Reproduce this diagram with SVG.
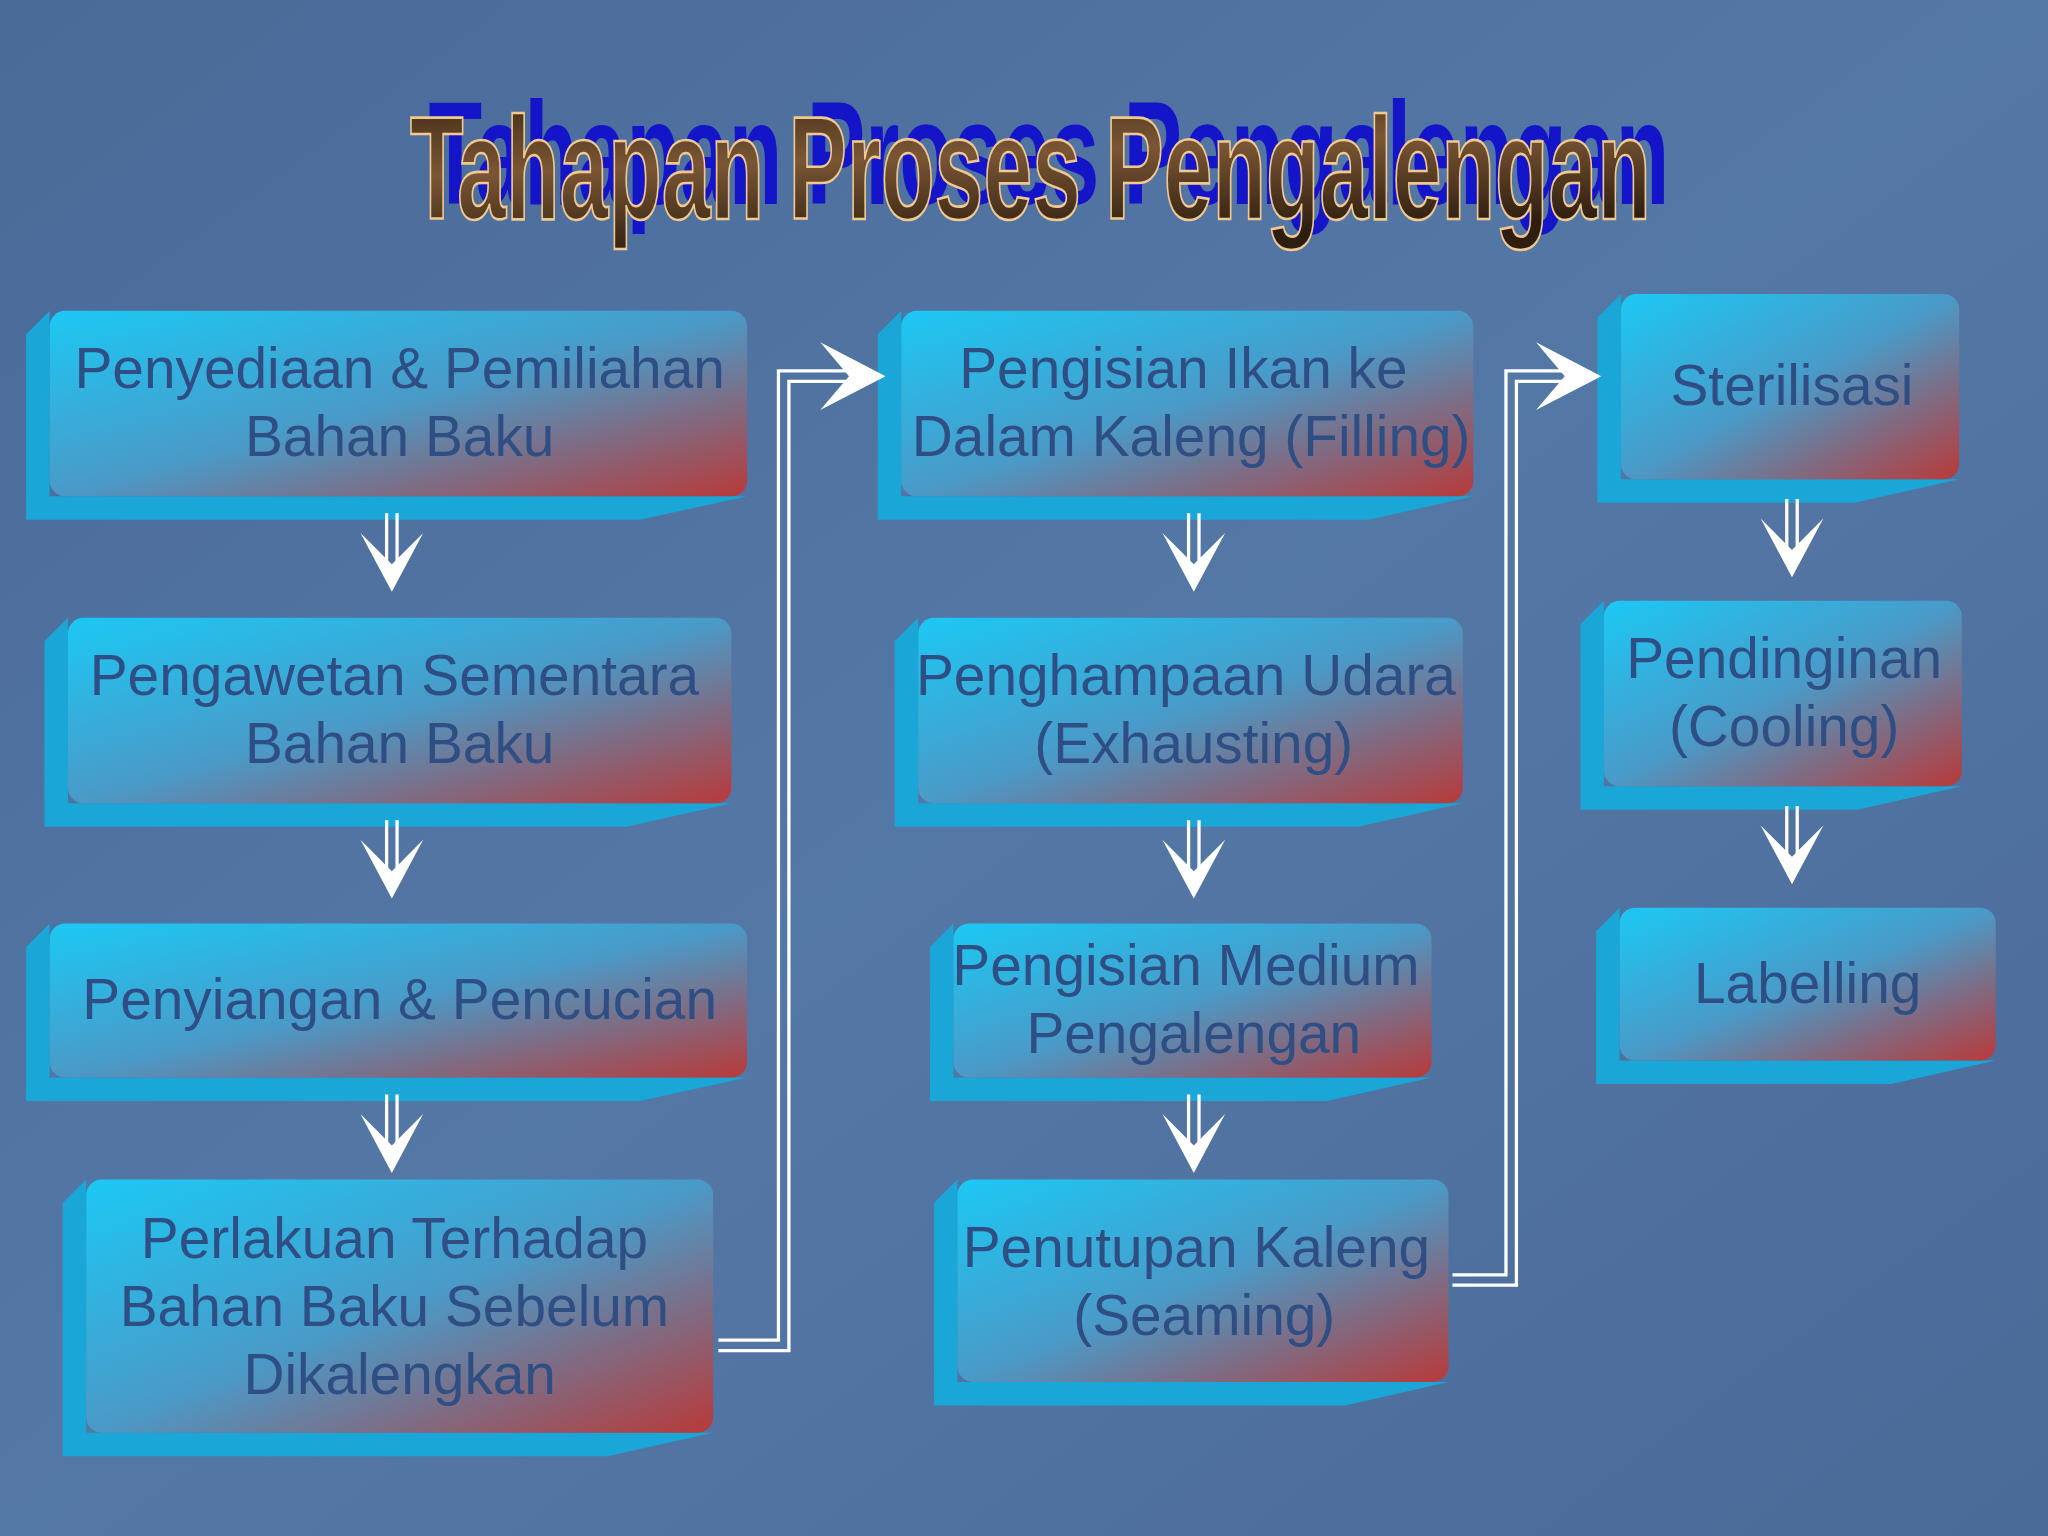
<svg xmlns="http://www.w3.org/2000/svg" width="2048" height="1536" viewBox="0 0 2048 1536">
<defs>
<linearGradient id="face" x1="0" y1="0" x2="1" y2="1">
<stop offset="0" stop-color="#1cc8f4"/><stop offset="0.5" stop-color="#4a9ac8"/><stop offset="1" stop-color="#b83a3a"/>
</linearGradient>
<linearGradient id="bg" x1="0" y1="0" x2="1" y2="1">
<stop offset="0" stop-color="#4a6a98"/><stop offset="0.5" stop-color="#5478a6"/><stop offset="1" stop-color="#4a6a98"/>
</linearGradient>
<linearGradient id="ttl" x1="0" y1="0" x2="0.3" y2="1">
<stop offset="0" stop-color="#3a2614"/><stop offset="0.5" stop-color="#7a5634"/><stop offset="1" stop-color="#2e1e10"/>
</linearGradient>
</defs>
<style>
.ext{fill:#1aa6d6}
.f{fill:url(#face)}
.t{font-family:"Liberation Sans",Arial,sans-serif;font-size:43.5px;fill:#2f4f84;text-anchor:middle}
.c{fill:none;stroke:#fff;stroke-width:2.5}
.hd{fill:#fff}
</style>
<rect width="2048" height="1536" fill="url(#bg)"/>
<g transform="scale(1.30612)">
<g id="title" font-family="'Liberation Sans',Arial,sans-serif" font-weight="bold" font-size="112">
<text x="328" y="156" textLength="950" lengthAdjust="spacingAndGlyphs" fill="#1414c8">Tahapan Proses Pengalengan</text>
<text x="314" y="168" textLength="950" lengthAdjust="spacingAndGlyphs" fill="url(#ttl)" stroke="#f0c890" stroke-width="2">Tahapan Proses Pengalengan</text>
</g>
<g id="n1"><path class="ext" d="M38,238 L20,256 L20,398 L490,398 L572,380 L38,380 Z"/><rect class="f" x="38" y="238" width="534" height="142" rx="12"/><text class="t" x="306" y="297">Penyediaan &amp; Pemiliahan</text><text class="t" x="306" y="349">Bahan Baku</text></g>
<g id="n2"><path class="ext" d="M52,473 L34,491 L34,633 L480,633 L560,615 L52,615 Z"/><rect class="f" x="52" y="473" width="508" height="142" rx="12"/><text class="t" x="302" y="532">Pengawetan Sementara</text><text class="t" x="306" y="584">Bahan Baku</text></g>
<g id="n3"><path class="ext" d="M38,707 L20,725 L20,843 L490,843 L572,825 L38,825 Z"/><rect class="f" x="38" y="707" width="534" height="118" rx="12"/><text class="t" x="306" y="780">Penyiangan &amp; Pencucian</text></g>
<g id="n4"><path class="ext" d="M66,903 L48,921 L48,1115 L465,1115 L546,1097 L66,1097 Z"/><rect class="f" x="66" y="903" width="480" height="194" rx="12"/><text class="t" x="302" y="963">Perlakuan Terhadap</text><text class="t" x="302" y="1015">Bahan Baku Sebelum</text><text class="t" x="306" y="1067">Dikalengkan</text></g>
<g id="n5"><path class="ext" d="M690,238 L672,256 L672,398 L1048,398 L1128,380 L690,380 Z"/><rect class="f" x="690" y="238" width="438" height="142" rx="12"/><text class="t" x="906" y="297">Pengisian Ikan ke</text><text class="t" x="912" y="349">Dalam Kaleng (Filling)</text></g>
<g id="n6"><path class="ext" d="M703,473 L685,491 L685,633 L1040,633 L1120,615 L703,615 Z"/><rect class="f" x="703" y="473" width="417" height="142" rx="12"/><text class="t" x="908" y="532">Penghampaan Udara</text><text class="t" x="914" y="584">(Exhausting)</text></g>
<g id="n7"><path class="ext" d="M730,707 L712,725 L712,843 L1016,843 L1096,825 L730,825 Z"/><rect class="f" x="730" y="707" width="366" height="118" rx="12"/><text class="t" x="908" y="754">Pengisian Medium</text><text class="t" x="914" y="806">Pengalengan</text></g>
<g id="n8"><path class="ext" d="M733,903 L715,921 L715,1076 L1030,1076 L1109,1058 L733,1058 Z"/><rect class="f" x="733" y="903" width="376" height="155" rx="12"/><text class="t" x="916" y="970">Penutupan Kaleng</text><text class="t" x="922" y="1022">(Seaming)</text></g>
<g id="n9"><path class="ext" d="M1241,225 L1223,243 L1223,385 L1420,385 L1500,367 L1241,367 Z"/><rect class="f" x="1241" y="225" width="259" height="142" rx="12"/><text class="t" x="1372" y="310">Sterilisasi</text></g>
<g id="n10"><path class="ext" d="M1228,460 L1210,478 L1210,620 L1422,620 L1502,602 L1228,602 Z"/><rect class="f" x="1228" y="460" width="274" height="142" rx="12"/><text class="t" x="1366" y="519">Pendinginan</text><text class="t" x="1366" y="571">(Cooling)</text></g>
<g id="n11"><path class="ext" d="M1240,695 L1222,713 L1222,830 L1448,830 L1528,812 L1240,812 Z"/><rect class="f" x="1240" y="695" width="288" height="117" rx="12"/><text class="t" x="1384" y="768">Labelling</text></g>
<g id="connectors">
<g id="down">
<path class="c" d="M296,393 V440 M304,393 V440"/><path class="hd" d="M276,408 L300,453 L324,408 L300,432 Z"/>
<path class="c" d="M296,628 V675 M304,628 V675"/><path class="hd" d="M276,643 L300,688 L324,643 L300,667 Z"/>
<path class="c" d="M296,838 V885 M304,838 V885"/><path class="hd" d="M276,853 L300,898 L324,853 L300,877 Z"/>
<path class="c" d="M910,393 V440 M918,393 V440"/><path class="hd" d="M890,408 L914,453 L938,408 L914,432 Z"/>
<path class="c" d="M910,628 V675 M918,628 V675"/><path class="hd" d="M890,643 L914,688 L938,643 L914,667 Z"/>
<path class="c" d="M910,838 V885 M918,838 V885"/><path class="hd" d="M890,853 L914,898 L938,853 L914,877 Z"/>
<path class="c" d="M1368,382 V429 M1376,382 V429"/><path class="hd" d="M1348,397 L1372,442 L1396,397 L1372,421 Z"/>
<path class="c" d="M1368,617 V664 M1376,617 V664"/><path class="hd" d="M1348,632 L1372,677 L1396,632 L1372,656 Z"/>
</g>
<path class="c" d="M550,1026 H596 V284 H655 M550,1034 H604 V292 H655"/>
<path class="hd" d="M628,262 L678,288 L628,314 L650,288 Z"/>
<path class="c" d="M1112,976 H1153 V284 H1203 M1112,984 H1161 V292 H1203"/>
<path class="hd" d="M1176,262 L1226,288 L1176,314 L1198,288 Z"/>
</g>
</g>
</svg>
